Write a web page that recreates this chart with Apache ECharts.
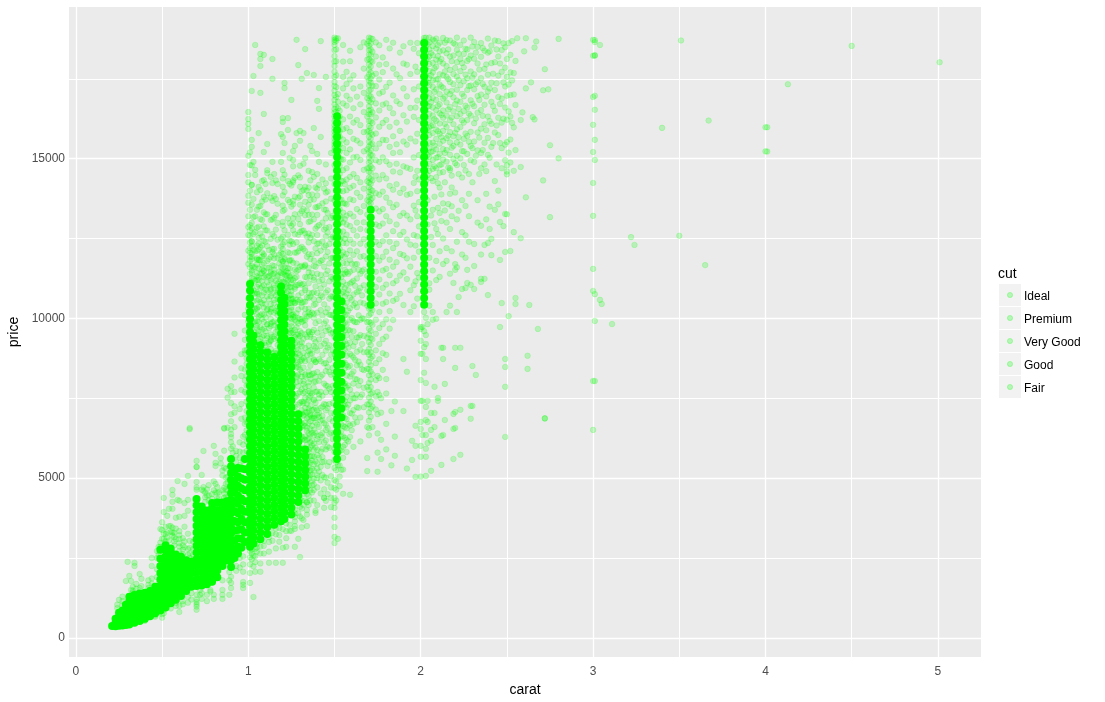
<!DOCTYPE html>
<html><head><meta charset="utf-8">
<script src="https://cdn.jsdelivr.net/npm/echarts@6/dist/echarts.min.js"></script>
<style>html,body{margin:0;padding:0;background:#fff}#c{width:1105px;height:702px}</style>
</head><body><div id="c"></div>
<script>
const cutLevels = ['Ideal','Premium','Very Good','Good','Fair'];
const xTicks = [0,1,2,3,4,5];
const yTicks = [0,5000,10000,15000];

// Overplotted, fully saturated areas: [carat, price, price, ...]
const solidLow = [
[0.21,370],[0.23,360,470,600],[0.25,380,520,660,790],[0.27,390,540,700,860],[0.29,400,560,720,880,1040],
[0.31,420,600,790,980,1160,1290],[0.34,470,650,840,1030,1220,1340],[0.37,530,710,890,1080,1270,1390],
[0.40,600,780,960,1150,1330,1410],[0.43,680,860,1040,1220,1400,1470],[0.46,770,950,1130,1310,1490,1600],
[0.49,860,1040,1230,1430,1630,1830,2030,2250,2480,2760],[0.52,950,1130,1320,1520,1720,1920,2130,2340,2550,2760,2900],
[0.55,1080,1270,1470,1670,1880,2080,2290,2500,2700,2800],[0.58,1190,1390,1590,1800,2010,2220,2430,2610],
[0.61,1310,1520,1730,1940,2150,2360,2540],[0.64,1470,1680,1890,2100,2310,2430],[0.67,1600,1810,2020,2230,2380],
[0.70,1620,1830,2040,2250,2460,2670,2880,3090,3300,3510,3720,3930,4150,4350],
[0.73,1640,1850,2060,2270,2480,2690,2900,3110,3320,3530,3740,3950,4110],
[0.76,1680,1890,2100,2310,2520,2730,2940,3150,3360,3570,3780,3990],
[0.79,1760,1970,2180,2390,2600,2810,3020,3230,3440,3650,3860,4070,4220],
[0.82,1900,2110,2320,2530,2740,2950,3160,3370,3580,3790,4000,4240],
[0.85,2250,2450,2660,2870,3080,3290,3500,3710,3920,4130,4240],
[0.875,2420,2630,2840,3050,3260,3470,3680,3890,4100,4280],
[0.90,2220,2430,2640,2850,3060,3270,3480,3690,3900,4110,4320,4530,4740,4950,5160,5370,5600],
[0.92,2500,2760,3040,3350,3660,3970,4280,4590,4900,5200],
[0.94,2640,2860,3120,3380,3620,3900,4200,4460,4760,5060,5320],
[0.96,2820,3100,3400,3730,4040,4360,4680,5000,5300],
[0.98,3000,3300,3620,3950,4280,4620,4950,5280,5600],
];
const solidMid = [
[1.01,2850,3060,3270,3480,3690,3900,4110,4320,4530,4740,4950,5160,5370,5580,5790,6000,6210,6420,6630,6840,7050,7260,7470,7680,7890,8100,8310,8520,8730,8940,9150,9360,9570,9780,9990,10200,10420,10640,10870,11080],
[1.03,2950,3160,3370,3580,3790,4000,4210,4420,4630,4840,5050,5260,5470,5680,5890,6100,6310,6520,6730,6940,7150,7360,7570,7780,7990,8200,8410,8620,8830,9040,9250,9460],
[1.07,3090,3300,3510,3720,3930,4140,4350,4560,4770,4980,5190,5400,5610,5820,6030,6240,6450,6660,6870,7080,7290,7500,7710,7920,8130,8340,8550,8760,8960,9160],
[1.11,3250,3460,3670,3880,4090,4300,4510,4720,4930,5140,5350,5560,5770,5980,6190,6400,6610,6820,7030,7240,7450,7660,7870,8080,8290,8500,8710,8930],
[1.15,3540,3750,3960,4170,4380,4590,4800,5010,5220,5430,5640,5850,6060,6270,6480,6690,6900,7110,7320,7530,7740,7950,8160,8370,8580,8790],
[1.19,3650,3860,4070,4280,4490,4700,4910,5120,5330,5540,5750,5960,6170,6380,6590,6800,7010,7220,7430,7640,7850,8060,8270,8480,8690,8900,9110,9320,9530,9740,9950,10160,10370,10580,10800,11000],
[1.21,3720,3930,4140,4350,4560,4770,4980,5190,5400,5610,5820,6030,6240,6450,6660,6870,7080,7290,7500,7710,7920,8130,8340,8550,8760,8970,9180,9390,9600,9810,10020,10230,10440,10650],
[1.25,3860,4070,4280,4490,4700,4910,5120,5330,5540,5750,5960,6170,6380,6590,6800,7010,7220,7430,7640,7850,8060,8270,8480,8690,8900,9110,9300],
[1.29,4250,4460,4670,4880,5090,5300,5510,5720,5930,6140,6350,6560,6780,7000],
[1.33,4620,4830,5040,5250,5460,5680,5900],
[1.515,5600,5810,6020,6230,6440,6650,6860,7070,7280,7490,7700,7910,8120,8330,8540,8750,8960,9170,9380,9590,9800,10010,10220,10430,10640,10850,11060,11270,11480,11690,11900,12110,12320,12530,12740,12950,13160,13370,13580,13790,14000,14210,14420,14630,14840,15050,15250,15470,15690,15900,16120,16330],
[1.54,6900,7180,7460,7740,8020,8300,8580,8860,9140,9420,9700,9980,10260,10540],
[1.71,10430,10640,10850,11060,11270,11480,11690,11900,12110,12320,12530,12740,12950,13160,13400],
[2.02,10430,10640,10850,11060,11270,11480,11690,11900,12110,12320,12530,12740,12950,13160,13370,13580,13790,14000,14210,14420,14630,14840,15050,15260,15470,15680,15890,16100,16310,16520,16730,16940,17150,17360,17570,17780,17990,18200,18410,18620],
];

// Individually visible points: [carat, price, price, ...]
const outliers = [
[5.01,18018],[4.5,18531],[4.13,17329],[4.01,15223,15984],[4.0,15984,15230],[3.67,16193],[3.65,11668],[3.51,18701],[3.5,12587],[3.4,15964],[3.24,12300],[3.22,12545],[3.11,9823],[3.05,10453],[3.04,18559,10580],
[3.0,18720,18220,16930,16060,15210,14240,13210,11550,10860,8040,6510],[3.01,18710,18650,18240,18220,16970,16530,15590,14960,10760,9920,8040],
[2.8,18750,15010],[2.75,15420,13170],[2.74,17170],[2.72,17800,6870],[2.71,17140,14320],[2.67,18670],[2.66,18480,16230],[2.65,16300],[2.64,17390],[2.61,18770,17200,13790],[2.6,18360],[2.59,16450],[2.58,16210,14740],[2.56,18770],
[2.68,9670],[2.63,10420],[2.55,10640,10450],[2.51,10070],[2.49,7860,8480,8730,13270,12080,6290],[2.46,13020],[2.48,12890],[2.54,12700],[2.58,12510],[2.52,12110],[2.46,11830,9730],[2.41,11980,12490],[2.39,12360,10730],[2.37,12300,11240],[2.35,11240,11140],[2.31,12330,10920,11640],[2.29,11050],[2.47,10480],[2.24,10920],[2.22,10670],[2.27,11110,11520],[2.19,11110],[2.2,11520,11700],[2.62,8830,8420],[2.72,6870],
];
const fan20 = [
[2.03,10020,9480,9200,8730,7980,7230,6820,6350,5920,5670,5070],[2.0,9730,9670,9300,8890,8070,7420,6760,6540,6010,5670,5050],[2.01,9730,8890,7420,6350],[2.04,9820,7420,6760,6100],[2.06,6510,6170,5230,7040],[2.08,7040,6600,7860],[2.1,7510,7420],
[2.13,9080,8730,6350],[2.12,9080,6320,5415],[2.14,7950,6820],[2.19,5600,6540,7010],[2.2,6570,9080,8450,7070],[2.23,5730,7140,9080],[2.29,7260,6860],[2.3,8510,7260],[2.32,8230],[1.97,6640,5040,6010],[1.95,5570,6170],[1.92,8330,5300],[1.9,8730,7100],[1.85,6300,5700,7400],[1.83,7100,5400],[1.8,5900,6700,7650,8100],[1.77,5600,6200,7050,7500],[1.75,5200,5800,6400,7000,7700,8200],
[2.02,13000,11600,10200,9600,9100,8300],[2.05,11900,11100,10900,10400],[2.07,13400,12300,11500,10200,9960],[2.09,12800,11800,11200,9990],[2.11,14100,13300,12100,11300],[2.13,13600,12500,11700],[2.15,13000,12200,11800,10200],[2.17,14700,13900,12800,11400,10400],[2.18,14100,13200,12100],[2.21,13100,12400,11600,10200],[2.24,13700,12700,12000],[2.26,12600,11900,10950],[2.28,13900,13200,12400],[2.33,13700,13000],[2.35,12900,12000],[2.38,13900,13100],[2.4,13500,12800],[2.43,14300,13400],[2.45,14000,13570],[2.5,13260,14600],
];
const upper20 = [
[2.02,18780,18700,18620,18450,18300,18150,18000,17850,17700,17500,17350,17200,17050,16900,16700,16550,16400,16250,16100,15900,15750,15600,15450,15300,15150,15000,14850,14700,14500,14350,14200,14050],
[2.03,18790,18620,18480,18260,18070,17820,17600,17420,17150,16980,16720,16500,16300,16040,15840,15660,15420,15200,15000,14760,14580,14300],
[2.05,18790,18640,18420,18200,17960,17740,17520,17300,17060,16880,16650,16400,16200,15980,15740,15500,15320,15060,14840,14620],
[2.07,18730,18520,18240,18000,17700,17450,17250,16900,16600,16350,16050,15800,15500,15230,14960,14680,14300],
[2.09,18760,18450,18100,17880,17480,17170,16840,16520,16190,15910,15620,15290,15030,14700,14420],
[2.11,18630,18360,18040,17640,17320,17020,16700,16420,16100,15780,15470,15150,14800,14560],
[2.13,18780,18390,17980,17610,17220,16880,16510,16280,15870,15560,15300,14970,14580],
[2.15,18710,18300,17900,17560,17100,16760,16350,15990,15640,15270,14910],
[2.17,18700,18200,17780,17400,17020,16620,16200,15830,15510,15120,14640],
[2.19,18620,18230,17650,17330,16920,16480,16080,15700,15400,14990],
[2.21,18790,18400,18020,17570,17160,16820,16330,15920,15510,15090,14800],
[2.23,18560,18120,17740,17300,16780,16400,15990,15440,15010],
[2.25,18700,18280,17860,17420,16950,16490,16130,15620,15230,14800],
[2.27,18420,18060,17520,17150,16600,16210,15710,15150],
[2.29,18790,18230,17730,17290,16830,16350,15840,15400,14950],
[2.31,18650,18130,17640,17170,16640,16110,15540,14900],
[2.33,18500,17980,17400,16960,16440,15820,15260],
[2.35,18620,18190,17520,17010,16520,15940,15180,14700],
[2.37,18380,17810,17250,16690,16080,15500,14820],
[2.39,18760,18320,17630,17100,16320,15650,15120],
[2.41,18540,17990,17380,16780,16090,15370],
[2.43,18700,18020,17150,16500,15820],
[2.45,18680,18200,17600,16930,16280,15740],
[2.47,18400,17720,16880,16130,15330,14700],
[2.49,18490,17850,17260,16600,15440,14950],
[2.5,18120,17560,16970,16220,15520,14790,14510],
[2.52,18250,17700,16990,16320,15600,14880],
[2.54,17680,17010,15980,14620],
[2.04,18590,18110,17380,16630,15890,15120,14480,13700,12940],[2.06,18310,17610,16770,16020,15220,14390,13220,12550],[2.08,18690,17830,17090,16240,15410,14760,13810,12980],[2.1,18550,18210,17490,16650,15860,15050,14230,13460,12640],[2.12,18120,17260,16370,15670,14820,13880,13050],[2.14,18630,17730,16940,16090,15180,14260,13380],[2.16,18420,17490,16540,15720,14720,13580],[2.18,18050,17120,16290,15340,14470,13510],[2.2,18580,17840,16710,15810,14860,13940],[2.22,18290,17460,16560,15670,14520,13370],[2.24,17990,17030,16200,15240,14410],[2.26,18440,17630,16660,15790,14630,13520],[2.28,18120,17270,16410,15530,14520],[2.3,18510,17540,16720,15330,14260],[2.32,18320,17330,16260,15090],[2.34,17790,16840,15660,14520],[2.36,18460,17340,16340,15270],[2.38,17950,16950,15890,14610],[2.4,18360,17200,16180,15030],[2.42,17660,16640,15490],[2.44,18420,17360,16040,14820],[2.46,17980,16710,15490],[2.48,18610,17390,16250],[2.51,18620,17320,16480,15190],[2.53,18680,17450,16120],[2.55,18060,16680,15270],
];
const col15 = [
[1.5,18790,18720,18650,18560,18400,18210,18040,17900,17720,17560,17400,17280,17130,16990,16840,16700,16550,16450,16320,16180,16050,15950,15850,15740,15630,15520,15430,15340,15250,5820,5570,5320,4940,4690,4380,4230,4070,3760,3470,3160,2970],
[1.51,18760,18690,18420,18050,17610,17240,16930,16620,16470,16190,16000,15810,15620,15450,15320,5500,5250,4900,4640,4300],
[1.52,18770,17020,16780,16580,16250,15960,15790,15500,15360,5880,5400,3100],
[1.53,16500,16320,16080,15860,15690,15440,15220,15020,14780,14520,14190,13980,13720,13420,13210,12980,12700,12460,12180,11910,11630,5860,5400,5050,4750],
[1.55,18560,18040,17560,17200,16730,16230,15920,15600,15330,14970,14640,14300,13980,13600,13310,13000,12720,12360,12070,11740,11400,11140,10830,10500,10160,9830,9510,9240,8950,8620,8290,7960,7630,7280,6970,6630,6310,5980,5640,5270,4510],
[1.57,17720,17340,16970,16660,15960,15510,15180,14700,14350,14010,13570,13220,12940,12620,12350,12020,11720,11450,11050,10780,10490,10120,9810,9470,9190,8830,8540,8210,7840,7550,7210,6850,6560,6200,5820],
[1.59,18380,18050,17480,16850,16320,15840,15290,14880,14430,14090,13730,13280,12890,12460,12130,11820,11460,11090,10650,10320,9960,9620,9240,8890,8520,8180,7770,7430,7040,6650,6290,4480],
[1.61,17610,17200,16580,16130,15620,15040,14520,14150,13700,13190,12760,12340,11990,11520,11180,10750,10410,9920,9600,9130,8780,8340,7960,7500,7130,6700,5980],
[1.63,16940,16210,15570,15060,14400,13930,13420,13000,12580,12100,11700,11250,10820,10350,9880,9410,8960,8530,8090,7620,7220,6750],
[1.65,18490,17260,16700,16050,15480,14960,14260,13800,13330,12800,12340,11930,11400,10960,10500,9960,9480,9020,8550,8040,7540,6900,6150],
[1.67,18640,17820,17060,16460,15830,15230,14650,14060,13520,13010,12480,11950,11530,11040,10470,9990,9450,8940,8380,7830,7220],
[1.69,18600,18100,17550,16900,16320,15850,15290,14700,14290,13700,13250,12760,12280,11850,11330,10880,10400,9880,9400,8950,8420,7860,7310,6600,5630,5220],
];
const col17 = [
[1.7,18790,18680,18530,18400,18260,18120,17950,17790,17630,17440,17300,17130,16980,16810,16640,16510,16390,16180,16020,15870,15690,15530,15380,15200,15030,14880,14710,14590,14400,14250,14110,13960,13810,13660,13540,10300,10100,9900,9680,9500,9260,9040,8860,8640,8420,8220,7980,7760,7520,7310,7060,6800,6560,6340],
[1.71,18770,18600,18420,18250,18060,17880,17700,17510,17380,17160,16950,16760,16540,16380,16170,15970,15800,15620,15440,15260,15110,14930,14760,14560,14370,14210,14030,13870,13720,13600,10320,10150,9860,9610,9380,9170,8940,8750,8530,8340,8090,7850,7640,7400,7180,6920],
[1.72,18750,18350,18040,17600,17280,16860,16450,16120,15750,15460,15100,14700,14320,14000,13770,10260,9800,9350,8810,8250,7680,7240,6600],
[1.74,18640,18200,17660,17270,16730,16290,15790,15320,14950,14470,13920,13440,12940,12400,11950,11460,10980,10470,9960,9520,9000,8600,8070,7560,7150],
[1.76,18550,17940,17480,17040,16510,16000,15470,14900,14350,13870,13350,12890,12300,11810,11220,10750,10200,9700,9200,8720,8130,7600],
[1.78,18170,17710,17090,16690,16120,15590,15040,14490,13970,13420,12970,12420,11930,11500,10950,10460,9820,9350,8910,8390],
[1.8,18720,17960,17250,16730,16210,15580,14920,14380,13780,13200,12600,12090,11550,11060,10510,9970,9430,8860],
[1.82,18450,17380,16590,16000,15370,14810,14150,13620,13040,12400,11840,11350,10780,10230,9680],
[1.84,18630,17820,16980,16420,15700,15180,14600,14030,13480,12730,12200,11620,11100,10550,9950],
[1.86,17640,16800,16130,15450,14840,14200,13560,12940,12340,11760,11180,10610],
[1.88,18320,17520,16710,15870,15200,14570,13930,13210,12610,12020,11340,10770],
[1.9,18520,17980,17200,16360,15540,14760,14060,13300,12710,11980,11440,10420],
[1.92,17940,16950,16160,15440,14720,13870,13220,12470,11880,11230],
[1.94,18630,17650,16590,15630,14680,13900,13100,12310,11620,10880,10200],
[1.96,18440,17170,16310,15040,14240,13530,12610,11900,11040,10380],
[1.98,18620,17720,16820,15780,14620,13980,13200,12570,11420,10620],
[1.99,18300,17260,16210,15110,14350,13640,12880,12090,11280],[1.97,17880,16600,15540,14430,13380,12280,11160],
];
const upperLeft = [
[1.04,18560,14650,14490],[1.28,18720,15800],[1.42,18680,15680],[1.07,18280,18120,17900,17060,14020,13520,13110,12660,12230,11820],[1.09,18250,16400,15210,14330,13800,13320,12880,12430,12010,11480],[1.14,18120,17500,14900,14240,13680,13100,12640,12170,11660,11230],[1.33,18430,15020,14120,13650,13230,12660,12110,11640,10950,10300,9780],[1.29,17930,14480,13780,13110,12620,12100,11520,11050,10520,10010,9500,8900],[1.34,17680,14000,13380,12560,11930,11280,10660,10060,9420,8840],[1.38,17620,15960,14430,13720,13100,12420,11810,11200,10600,10020,9360,8690,8010,7430,6880],[1.03,17590,14900,13740,13170,12640,12140,11600],[1.31,17500,13980,13360,12750,12240,11650,11050,10490,9890,9250,8680],[1.45,17560,14820,14230,13660,13130,12570,11940,11380,10810,10190,9610,8990,8350,7690,7120,6510,5900],[1.21,17370,17210,15490,14500,13960,13400,12760,12390,11900,11440],[1.41,17210,16560,14900,14180,13520,12920,12350,11730,11160,10580,9920,9340,8720,8050,7500,6910],[1.02,17120,15590,15370,14790,14180,13560,12990,12410,11930,11500],[1.25,16840,14160,13500,12900,12410,11820,11210,10620,10120],[1.4,16810,15150,14520,13850,13240,12610,12040,11400,10790,10180,9550,8990,8320,7710,6980,6330],[1.0,16460,16240,16090,15930,15090,14490,13840,13200,12610,12120,11700],[1.2,16270,16150,15680,15180,14640,14120,13530,13020,12560,12170,11790,11400],[1.23,16270,15900,14300,13710,13130,12620,12070,11570,11030,10460],[1.19,15770,14900],[1.06,15800,14120,13500,12870,12340,11830,11210,10590,10060,9600],[1.02,14180],[1.32,15800,14840,14020,13420,12750,12180,11610,11080,10520,9930,9360,8770],[1.3,15870,15560,14410,13820,13280,12700,12200,11620,11100,10570,9980,9440,8850],[1.11,15460,14640,14550,13920,13260,12750,12260,11800,11300,10880,10290,9810,9380],[1.27,15400,14400,13810,13260,12640,12060,11530,10990,10480,9960,9420,8800],[1.26,15240,14960,14260,13570,12960,12330,11740,11190,10610,10120],[1.36,15400,14320,13710,13040,12520,11860,11310,10680,10120,9500,8880,8220,7580,6990],[1.37,15240,14580,13880,13250,12620,12010,11420,10790,10180,9570,8900,8260,7650],[1.48,15180,14380,13750,13140,12490,11880,11300,10690,10110,9530,8870,8240,7700,7030,6420],[1.24,15020,14210,13640,12980,12430,11830,11280,10720,10230,9680],[1.35,14620,13860,13240,12660,12010,11440,10800,10190,9570,8980,8340,7720,7080,4160],[1.13,14430,13780,13080,12490,11920,11410,10880,10300,9840,9320],[1.15,14520,13830,13150,12570,12000,11530,10950,10480,9910,9440],[1.17,14210,13590,12990,12460,11890,11320,10810,10220,9720],[1.05,13950,13400,12840,12280,11840,11320,10810,10290,9780],[1.08,14300,13660,13080,12560,12060,11540,10990,10470,9980,9420,9000],[1.39,14100,13480,12810,12190,11620,11000,10450,9850,9260,8630,8020,7360,6740,3980,3910],[1.43,14350,13600,13000,12410,11830,11210,10670,10090,9480,8860,8240,7580,6950,6280,5660],[1.46,13970,13300,12690,12080,11490,10880,10310,9720,9090,8480,7880,7190,6570,5990,5380],[1.44,14060,13410,12780,12230,11620,11060,10440,9840,9210,8590,7960,7320,6720,6110,5520,4380,4070],
[1.28,8200,8620,9050,9490,9900],[1.33,8180,7700,7200,6740,6300,5850,5420,5010,4600],[1.35,8000,7430,6900,6400,5900,5500,5080,4760],[1.37,7130,6640,6170,5690,5290,4910,4550],[1.38,6350,5880,5430,4980,4630,4300],[1.4,5880,5460,5090,4710,4160],[1.42,6350,5830,5360,4930,4520],[1.44,5030,4650,4380],[1.45,5020,4290],[1.46,4860,4500],[1.48,5060,4710,4380,4090],[1.32,4160,3690,7950,7400,6950],[1.29,3100,3900,8480],[1.27,2850,3410,3900],[1.24,3540,3350],[1.25,3350],[1.22,2850],[1.2,2820,2350,3400],[1.3,2530,4100,3800],[1.34,4500,4000],[1.36,4300],
];
const lowEdge = [
[0.3,2380],[0.34,2350,2250],[0.31,1940],[0.29,1780],[0.32,1780,1500],[0.35,1690,1540],[0.37,2000,1560],[0.38,1850,1620],[0.25,1190],[0.24,930,1040],[0.44,2500,2250,1700,1860],[0.47,2500,2720,2150,1900],[0.49,2660,3410,2850,2980],[0.51,4380,3940,3270,3100],[0.56,4630,4480,4260,4040,3300,3450,3200],[0.59,4910,4320],[0.63,4820,4220,3820,3480,3020,2840],[0.65,5070,4320,3980,3260,2780,2600],[0.7,5540,5350,5350,4880,4710,4640,1350,1200,1050,880,980,1120],[0.74,5850,4720,4600],[0.8,6010,4900,4620,1350,1220],[0.81,5760,5480,5380,4820,4550],[0.53,3820,3140,3300],[0.54,4040,3500,3050],[0.6,4290,3790,3340,3100,2960,810,1000],[0.58,3760,3420,3090],[0.52,3470,3250,3020],[0.55,3500,3320,920],[0.5,630,740,3100,3380,3620],[0.65,1100,1280],[0.73,1220,1400,4640,5100],[0.76,1150,1350,4460,4650],[0.85,1350,1220,1500,1800,4620,5080,5240],[0.89,1350,1800,2060],[1.03,1280,2240,2560],[0.9,1910,1720,1560,5920,6120,6280,6380],[0.97,2070,1750,1660,1560,2300,2550,5540,5800,6050,6300],[1.01,2030,1720,2300,2520,2720],[1.04,2070,2370,2560,2780],[1.07,2070,2330,2640,2860],[1.12,2350,2700,3000,3150],[1.16,2350,2800,3240,3420],[0.77,4780,4460,4300],[0.83,4560,4380,4250],[0.87,4420,4640,4820,5300,5020],[0.91,5800,6000],[0.93,5700,5500,5850,2250,2100],[0.95,5640,5400,5830,6120,2200,2500,7160],[0.78,2100,1710,1500,1450],[0.72,1500,1350],[0.67,1400,1200],[0.62,1150,1050],[0.58,1000,1090],[0.51,770,870],[0.46,660,700],[0.4,560,530],[0.9,6520,6780,7000,7350,7690,7880],[0.88,6580,7520,7800],[0.84,5460,5620],[0.86,5330,5860,6550,6570],[0.66,6570,6530],[0.99,5850,6150,6500,6750,7100,7400,7650,7900,8200,8580,8750,9000],[0.98,6360,6700,6900,7700,8060,8400,8900,9620,10110,9330,9000],[0.96,6860,7320,7760,8200,8440,8880],[0.92,6600,7050,7250,7700,8150,8650,9520],
[0.57,2900,3020,3150,3290],[0.6,2720,2860,3220],[0.62,2620,2760,2900,3120],[0.66,2500,2640,2820,3040],[0.68,2460,2600,2780,3010],[0.48,2600,2850,1700],[0.42,1560,1660,1800],[0.33,1420,1480,1600],[0.27,1020,1150,1290],[0.75,4260,4400,4550],[0.79,4360,4500],[0.82,4360,4540,4720],[0.86,4380,4520,4700],[0.88,4380,4620,4860,5040],[1.02,2760,2640,2460],[1.05,2820,2700,2940],[1.09,2880,3040,2640],[1.14,3040,3280,3480],[1.18,3010,3220,3440,3580],[1.22,3120,3340,3580],[1.27,3500,3650,3780,4020],[1.31,3460,3740,4050,4300],[1.34,3500,3860,4250],
];
const crowded = [
[1.01,5400,5400,10850,11150,11400,11600,11800,11920,12060,12200,12380,12590,12920],[1.02,10400,10800,11120,11260,11430,11650,11860,12030,12260,12410,12820],[1.05,9500,9700,9920,10120,10330,10560,10770,10990,11210,11430,11690,11880,12120],[1.09,9000,9230,9470,9680,9890,10120,10340,10570,10810,11040,11290,11500,11730,11960],[1.13,8550,8790,9040,9290,9500,9760,9980,10210,10440,10700,10930,11200,11470],[1.17,8420,8660,8920,9170,9390,9620,9860,10100,10370,10620,10880,11090,11360],[1.19,11000,11200,11420,11610,11830,12060],[1.21,10200,10430,10650,10880,11140,11370,11600,11850],[1.22,9500,10000,10540,10980,11250,11480,11720],[1.25,8240,8460,8680,8930,9150,9400,9620,9860,10100,10340,10590,10860,11100,11360],[1.28,8160,8460,8780,9240,9720,10160,10590,11040,11300],[1.3,6700,7000,7360,7700,8040,8400,8650,9200,9600],[1.31,4600,5000,5400,5800,6200,6600,7020,7400,7780,8180],[1.34,4240,4700,5200,5600,6060,6480,6880,7330],[1.12,8700,8950,9200],
[1.5,14800,14210,13700,13150,12540,11900,11230,10680,10030,9420,8890,8250,7620,7010,6400,5930],[1.54,14980,14300,13720,13120,12540,11980,11300,10780,10120,9540,8890,8270,7630,7100,6480,5870,5260],[1.56,14200,13600,13110,12490,11920,11390,10690,10100,9630,9020,8440,7880,7300,6600,6040],
[1.33,4300,4820,5210,5740,6190,6630,7060,7510],[1.35,4450,4980,5340,5810,6240,6710,7180],[1.3,4350,4800,5260,5720,6180,6550],[1.37,4780,5110,5560,6020,6420,6880],[1.41,5200,5640,6130,6600,7040,7620],[1.43,5100,5500,5920,6420,6830,7240],[1.47,5500,5950,6380,6850,7320,7800,8320],
[1.52,6100,6520,7040,7480,7950,8430,8900,9320,9790,10260,10740,11180],[1.54,6300,6680,7250,7860,8420,9200,9810,10460,11020],[1.56,6260,6880,7420,7970,8620,9280,9860,10390,10950,11520],[1.58,6150,6700,7300,7900,8480,9080,9640,10240,10880,11400],[1.6,6500,7020,7620,8260,8840,9420,10010,10580,11130,11710],[1.62,6900,7500,8100,8700,9260,9880,10470,11020,11690],
[1.64,7200,7900,8650,9400,10100,10860,11520],[1.66,7620,8410,9200,10000,10720,11480],
[1.01,15200,14800,14000,13400,12750],[1.04,13200,12700,12100,11600,11180,10780,10300,9900],[1.06,9280,9500,9890,10360,10760,11060],[1.08,9220,9650,10150,10720,11170],[1.1,8780,9160,9600,10030,10440,10900,11340,12400],[1.14,8540,8900,9420,9880,10320,10780,11380,12080],[1.16,8460,8980,9580,10240,10720,11180],[1.18,8760,9260,9740,10240,10840],[1.2,10900,11140,11560,11780,12020,12320],[1.22,10120,10340,10800,11090,11340],[1.24,8300,8640,9120,9560,10030,10480,10980,11320],[1.26,7640,7920,8220,8620,9020,9560,10040,10520],[1.28,7560,7080,6820,6520,8000],[1.29,6500,6920,7300,7650],[1.27,6420,6720,6980,7240,7530],
[1.07,9360,9720,10100,10510,10950,11400],[1.11,9000,9450,9820,10260,10690,11130,11580],[1.12,9260,9690,10150,10600,11040],[1.15,8920,9360,9780,10180,10580,11040,11410],[1.19,12250,12500],[1.23,10640,10850,11200,11430],[1.25,9320,9540,9750,9990,10270,10480,10740,10980],[1.27,8880,9230,9640,10060,10490,10930,11260],[1.29,7880,8240,8560,9020,9400,9840,10280,10720],[1.31,8320,8720,9120,9540,9980,10360,10800],[1.32,6980,7340,7660,8040,8460,8920],[1.33,7850,8240,8660,9080,9500,9940],[1.35,7520,7880,8220,8700,9150,9600,10060],[1.36,5100,5480,5960,6360,6780,7260,7680,8100,8520,9000,9420],[1.38,7140,7460,7830,8280,8720,9140,9640,10140],[1.39,5520,5960,6420,6880,7200,7700,8180,8640,9080],[1.42,6800,7200,7700,8180,8660,9140,9680,10260,10720],[1.45,6180,6680,7300,7900,8600,9300,9920],[1.47,8700,9160,9640,10120,10620,11160,11720,12330,12860],[1.49,6220,6780,7350,7890,8450,9000,9560,10090,10680,11240,11900,12560,13210],
[1.0,10620,10300,9900,9450,8940,8400,7920,7300,6760,6250,12860,13620,14260],[1.03,9600,9880,10220,10540,10880,11240],[1.26,12760,13140,13680,14320,14760],[1.3,12950,13560,14120,14780],[1.35,12380,13020,13560,14100],[1.4,12340,12880,13480,14060],[1.45,12280,12840,13400,13940],[1.1,12760,13260,13720,14210],[1.16,12780,13240,13740,14320],[1.2,12900,13360,13850,14380],
[1.31,4700,5100,5500,5950,6300,6720,7130],[1.32,4500,4900,5330,5790,6240,6650],[1.34,4900,5300,5760,6200,6580,7060],[1.36,4620,5240,5680,6120,6540,6960],[1.38,4800,5240,5680,6080,6520,6940],[1.4,5000,5300,5720,6220,6680,7120],[1.06,11280,11560,11840,12160,12520],[1.08,11420,11680,11930,12280],[1.12,11320,11590,11860,12140],[1.15,11640,11880,12180],[1.18,11150,11460,11720,11990],[1.24,11560,11800,12040,12310],[1.28,11480,11720,12060,12380],[1.33,10140,10520,10880,11300,11680],[1.35,10300,10640,11100,11580],[1.38,10420,10820,11280,11640],[1.42,10940,11360,11800,12120],
];

const pairs = rows => rows.flatMap(([carat, ...prices]) => prices.map(price => [carat, price]));
const cloud = pairs([...crowded, ...lowEdge, ...upperLeft, ...col15, ...col17, ...upper20, ...fan20, ...outliers]);
const solid = pairs([...solidLow, ...solidMid]);

const textColor = '#4D4D4D', font = '"Liberation Sans", Arial, sans-serif';
const gridWhite = '#FFFFFF';
const legendGraphics = [{type:'text', left:998, top:267, style:{text:'cut', font:'14px '+font, fill:'#000'}}];
cutLevels.forEach((name, i) => {
  const y = 284 + i * 23;
  legendGraphics.push(
    {type:'rect', shape:{x:999, y:y, width:22, height:22}, style:{fill:'#F2F2F2'}},
    {type:'circle', shape:{cx:1010, cy:y + 11, r:2.6}, style:{fill:'rgba(0,255,0,0.25)', stroke:'rgba(0,255,0,0.3)', lineWidth:0.8}},
    {type:'text', x:1024, y:y + 13, style:{text:name, font:'12px '+font, fill:'#000', textVerticalAlign:'middle'}}
  );
});

const chart = echarts.init(document.getElementById('c'), null, {renderer:'canvas'});
chart.setOption({
  animation:false,
  backgroundColor:'#fff',
  grid:{left:69, right:124, top:7, bottom:45, show:true, backgroundColor:'#EBEBEB', borderWidth:0, outerBoundsMode:'none'},
  xAxis:{type:'value', min:-0.04, max:5.25, name:'carat', nameLocation:'middle', nameGap:22,
    nameTextStyle:{fontFamily:font, fontSize:14, color:'#000'},
    axisLine:{show:false},
    axisTick:{length:3, lineStyle:{color:'#333', width:1}, customValues:xTicks},
    axisLabel:{fontFamily:font, fontSize:12, color:textColor, margin:9, customValues:xTicks},
    splitLine:{show:false}},
  yAxis:{type:'value', min:-599, max:19748, name:'price', nameLocation:'middle', nameGap:39,
    nameTextStyle:{fontFamily:font, fontSize:14, color:'#000'},
    axisLine:{show:false},
    axisTick:{length:3, lineStyle:{color:'#333', width:1}, customValues:yTicks},
    axisLabel:{fontFamily:font, fontSize:12, color:textColor, margin:4, customValues:yTicks, formatter:v=>String(v)},
    splitLine:{show:false}},
  graphic:legendGraphics,
  series:[
    {type:'line', silent:true, z:1, data:[], markLine:{z:1, silent:true, symbol:'none', label:{show:false}, animation:false,
      data:[...xTicks.map(v=>({xAxis:v, lineStyle:{color:gridWhite,width:1.3,type:'solid'}})),
            ...[0.5,1.5,2.5,3.5,4.5].map(v=>({xAxis:v, lineStyle:{color:gridWhite,width:1,type:'solid'}})),
            ...yTicks.map(v=>({yAxis:v, lineStyle:{color:gridWhite,width:1.3,type:'solid'}})),
            ...[2500,7500,12500,17500].map(v=>({yAxis:v, lineStyle:{color:gridWhite,width:1,type:'solid'}}))]}},
    {type:'scatter', z:3, data:solid, symbolSize:8, silent:true, itemStyle:{color:'#00FF00', opacity:1}},
    {type:'scatter', z:4, data:cloud, symbolSize:5.6, silent:true, itemStyle:{color:'rgba(0,255,0,0.27)', borderColor:'rgba(0,255,0,0.3)', borderWidth:0.7}}
  ]
});
</script></body></html>
